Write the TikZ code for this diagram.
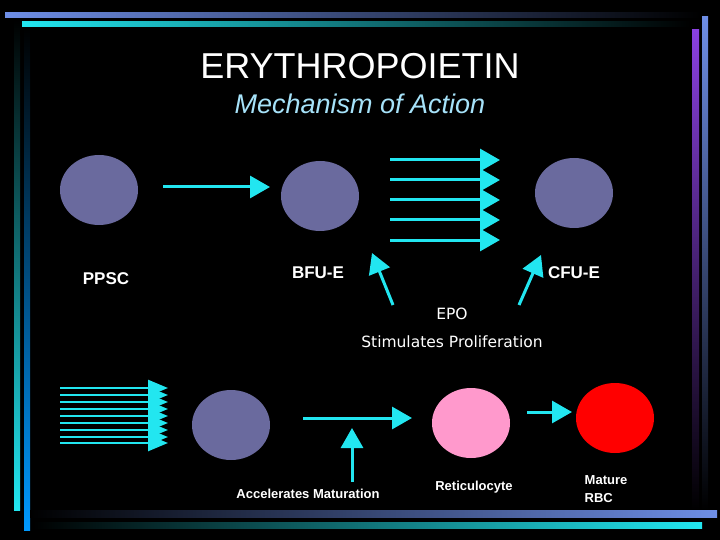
\documentclass[tikz,border=0pt]{standalone}
\usepackage{fontspec}
\setmainfont{Liberation Sans}
\newfontfamily\dvs{DejaVu Sans}
\usetikzlibrary{arrows.meta}
\definecolor{cellc}{HTML}{6A6A9E}
\definecolor{arrc}{HTML}{22E6F0}
\definecolor{bluel}{HTML}{6E8EE6}
\definecolor{purp}{HTML}{8A40E0}
\definecolor{pinkc}{HTML}{FF99CC}
\tikzset{
 cell/.style={ellipse,fill=cellc,minimum width=78pt,minimum height=70pt,inner sep=0},
 arr/.style={draw=arrc,line width=3pt,-{Triangle[length=20pt,width=22pt]}},
 lab/.style={text=white,font=\bfseries\fontsize{17}{19}\selectfont},
 slab/.style={text=white,font=\bfseries\fontsize{13}{16}\selectfont,align=left},
}
\usetikzlibrary{shapes.geometric}
\begin{document}
\begin{tikzpicture}[x=1pt,y=-1pt]
\fill[black] (0,0) rectangle (720,540);
\useasboundingbox (0,0) rectangle (720,540);
% border
\shade[left color=bluel,right color=black] (5,13) rectangle (700,18);
\shade[left color=arrc,right color=black] (22,22) rectangle (690,27);
\shade[top color=black,bottom color=arrc] (14,20) rectangle (20,510);
\shade[top color=black,bottom color=cyan!60!blue] (24,28) rectangle (30,530);
\shade[top color=purp,bottom color=black] (692,30) rectangle (699,510);
\shade[top color=bluel,bottom color=black] (702,17) rectangle (708,510);
\shade[left color=black,right color=bluel] (30,510) rectangle (717,517);
\shade[left color=black,right color=arrc] (33,522) rectangle (702,528);
% titles
\node[text=white,font=\fontsize{36}{40}\selectfont] (t) at (360,66) {ERYTHROPOIETIN};
\node[text=cyan!35!white,font=\itshape\fontsize{27}{30}\selectfont] (st) at (360,104) {Mechanism of Action};
% cells
\node[cell] (ppsc) at (99,190) {};
\node[cell] (bfu) at (320,196) {};
\node[cell] (cfu) at (574,193) {};
\node[cell] (b1) at (231,425) {};
\node[cell,fill=pinkc] (ret) at (471,423) {};
\node[cell,fill=red] (rbc) at (615,418) {};
% labels
\node[lab] (lp) at (106,279) {PPSC};
\node[lab] (lb) at (318,273) {BFU-E};
\node[lab] (lc) at (574,273) {CFU-E};
\node[text=white,font=\dvs\fontsize{15.5}{18}\selectfont] (epo) at (452,314) {EPO};
\node[text=white,font=\dvs\fontsize{15.5}{18}\selectfont] (sp) at (452,342) {Stimulates Proliferation};
\node[slab] (am) at (308,494) {Accelerates Maturation};
\node[slab] (rl) at (474,487) {Reticulocyte};
\node[slab] (mr) at (606,489) {Mature\\[2pt]RBC};
% arrows
\coordinate (a1s) at (163,187); \coordinate (a1e) at (270,187);
\draw[arr] (a1s) -- (a1e);
\foreach \y in {160,180,200,220,240}{
 \coordinate (s\y) at (390,\y); \coordinate (e\y) at (500,\y);
 \draw[arr] (s\y) -- (e\y);}
\coordinate (u1s) at (393,305); \coordinate (u1e) at (372,253);
\draw[arr] (u1s) -- (u1e);
\coordinate (u2s) at (519,305); \coordinate (u2e) at (541,255);
\draw[arr] (u2s) -- (u2e);
\foreach \y in {388,395,402,409,416,423,430,437,443}{
 \coordinate (bs\y) at (60,\y); \coordinate (be\y) at (168,\y);
 \draw[draw=arrc,line width=2.5pt,-{Triangle[length=20pt,width=16pt]}] (bs\y) -- (be\y);}
\coordinate (a2s) at (303,418); \coordinate (a2e) at (412,418);
\draw[arr] (a2s) -- (a2e);
\coordinate (u3s) at (352,482); \coordinate (u3e) at (352,428);
\draw[arr] (u3s) -- (u3e);
\coordinate (a3s) at (527,412); \coordinate (a3e) at (572,412);
\draw[arr] (a3s) -- (a3e);
\end{tikzpicture}
\end{document}
